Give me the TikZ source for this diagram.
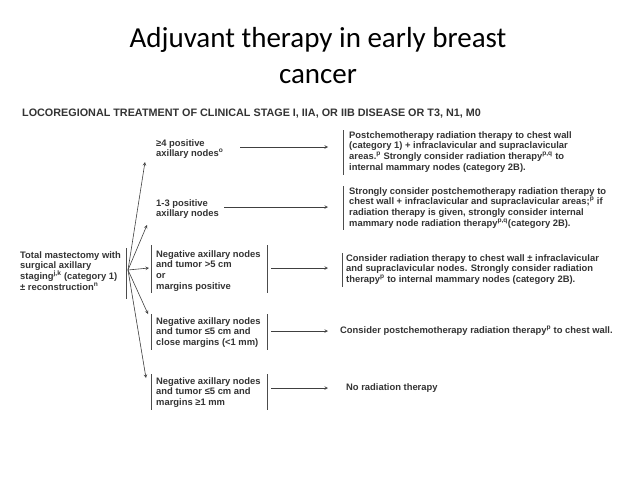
\documentclass[tikz,border=0pt]{standalone}
\usepackage{fontspec}
\setmainfont{Liberation Sans}
\newfontfamily\titlefont{Carlito}
\begin{document}
\begin{tikzpicture}[x=1pt,y=-1pt,
  txt/.style={anchor=north west,align=left,inner sep=0pt,text=black!80,font=\fontsize{9.4}{10.8}\selectfont\bfseries},
  bar/.style={draw=black!70,line width=0.8pt},
  arr/.style={draw=black!75,line width=0.6pt,-stealth}]
\useasboundingbox (0,0) rectangle (638,479);
\node[font=\titlefont\fontsize{29}{36}\selectfont,align=center,anchor=north] (title) at (318,24) {Adjuvant therapy in early breast\\cancer};
\node[txt,font=\fontsize{10.8}{12}\selectfont\bfseries] (hdr) at (22,109) {LOCOREGIONAL TREATMENT OF CLINICAL STAGE I, IIA, OR IIB DISEASE OR T3, N1, M0};
% left
\node[txt] (root) at (20,251) {Total mastectomy with\\surgical axillary\\staging\textsuperscript{j,k} (category 1)\\± reconstruction\textsuperscript{n}};
\draw[bar] (126,248) -- (126,299);
\coordinate (o) at (128,270);
% middle nodes
\node[txt] (m1) at (156,139) {≥4 positive\\axillary nodes\textsuperscript{o}};
\node[txt] (m2) at (156,199) {1-3 positive\\axillary nodes};
\node[txt] (m3) at (156,250) {Negative axillary nodes\\and tumor >5 cm\\or\\margins positive};
\node[txt] (m4) at (156,317) {Negative axillary nodes\\and tumor ≤5 cm and\\close margins (<1 mm)};
\node[txt] (m5) at (156,377) {Negative axillary nodes\\and tumor ≤5 cm and\\margins ≥1 mm};
\draw[bar] (151,245) -- (151,293); \draw[bar] (267,245) -- (267,293);
\draw[bar] (151,314) -- (151,350); \draw[bar] (267,314) -- (267,350);
\draw[bar] (151,374) -- (151,410); \draw[bar] (267,374) -- (267,410);
\coordinate (t1) at (145,162); \coordinate (t2) at (147,225); \coordinate (t3) at (149,268);
\coordinate (t4) at (148,314); \coordinate (t5) at (146,378);
\foreach \t in {t1,t2,t3,t4,t5} \draw[arr] (o) -- (\t);
% right
\node[txt] (r1) at (349,131) {Postchemotherapy radiation therapy to chest wall\\(category 1) + infraclavicular and supraclavicular\\areas.\textsuperscript{p} Strongly consider radiation therapy\textsuperscript{p,q} to\\internal mammary nodes (category 2B).};
\node[txt] (r2) at (349,187) {Strongly consider postchemotherapy radiation therapy to\\chest wall + infraclavicular and supraclavicular areas;\textsuperscript{p} if\\radiation therapy is given, strongly consider internal\\mammary node radiation therapy\textsuperscript{p,q}(category 2B).};
\node[txt] (r3) at (346,254) {Consider radiation therapy to chest wall ± infraclavicular\\and supraclavicular nodes. Strongly consider radiation\\therapy\textsuperscript{p} to internal mammary nodes (category 2B).};
\node[txt] (r4) at (340,326) {Consider postchemotherapy radiation therapy\textsuperscript{p} to chest wall.};
\node[txt] (r5) at (346,383) {No radiation therapy};
\draw[bar] (343,130) -- (343,175);
\draw[bar] (343,186) -- (343,230);
\draw[bar] (342,253) -- (342,287);
\coordinate (a1) at (240,147); \coordinate (b1) at (328,147);
\coordinate (a2) at (224,207); \coordinate (b2) at (328,207);
\coordinate (a3) at (271,268); \coordinate (b3) at (328,268);
\coordinate (a4) at (271,331); \coordinate (b4) at (328,331);
\coordinate (a5) at (271,388); \coordinate (b5) at (328,388);
\foreach \i in {1,...,5} \draw[arr] (a\i) -- (b\i);
\end{tikzpicture}
\end{document}
